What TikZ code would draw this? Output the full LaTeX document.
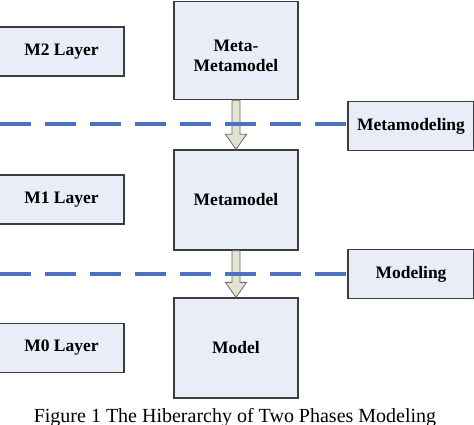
\documentclass[tikz,border=0pt]{standalone}
\usepackage{fontspec}
\setmainfont{Liberation Serif}
\usetikzlibrary{calc}

\definecolor{boxfill}{HTML}{E8EDF7}
\definecolor{boxline}{HTML}{3C3C3C}
\definecolor{sepblue}{HTML}{4A72BE}
\definecolor{flowfill}{HTML}{E2E4CF}
\definecolor{flowline}{HTML}{6A6A6A}

\begin{document}
\begin{tikzpicture}[x=1pt,y=-1pt,
    box/.style={rectangle,draw=boxline,fill=boxfill,line width=1.3pt,inner sep=0pt,
      align=center,font=\fontsize{17.5}{20}\selectfont\bfseries},
    layerbox/.style={box,minimum width=125,minimum height=49},
    levelbox/.style={box,minimum width=124,minimum height=98},
    phasebox/.style={box,minimum width=126,minimum height=49},
    sepline/.style={draw=sepblue,line width=3.5pt,dash pattern=on 31pt off 14pt},
    flow/.style={draw=flowline,fill=flowfill,line width=0.8pt,line join=miter}]
  \useasboundingbox (0,0) rectangle (474,425);

  % layers on the left
  \node[layerbox] (m2) at (61.5,51.5){M2 Layer};
  \node[layerbox] (m1) at (61.5,199.5){M1 Layer};
  \node[layerbox] (m0) at (61.5,348){M0 Layer};

  % the three levels
  \node[levelbox,text height=42pt,text depth=0pt] (mmm) at (236,50.5){Meta-\\Metamodel};
  \node[levelbox,minimum height=100] (mm) at (236,200){Metamodel};
  \node[levelbox,minimum height=100] (mo) at (236,348){Model};

  % the two phases
  \node[phasebox] (pmm) at (411,126){Metamodeling};
  \node[phasebox] (pmo) at (411,274){Modeling};

  % block arrows between the levels
  \filldraw[flow] ($(mmm.south)+(-4,0)$) -- ($(mmm.south)+(4,0)$) -- ($(mm.north)+(4,-15)$)
    -- ($(mm.north)+(10.5,-15)$) -- (mm.north) -- ($(mm.north)+(-10.5,-15)$)
    -- ($(mm.north)+(-4,-15)$) -- cycle;
  \filldraw[flow] ($(mm.south)+(-4,0)$) -- ($(mm.south)+(4,0)$) -- ($(mo.north)+(4,-15)$)
    -- ($(mo.north)+(10.5,-15)$) -- (mo.north) -- ($(mo.north)+(-10.5,-15)$)
    -- ($(mo.north)+(-4,-15)$) -- cycle;

  % dashed borders of the phases
  \coordinate (s1) at (0,124);
  \coordinate (s2) at (0,274);
  \draw[sepline] (s1) -- (s1 -| pmm.west);
  \draw[sepline] (s2) -- (s2 -| pmo.west);

  \node[font=\fontsize{20}{24}\selectfont,anchor=base] (cap) at (235,422){Figure 1 The Hiberarchy of Two Phases Modeling};
\end{tikzpicture}
\end{document}
